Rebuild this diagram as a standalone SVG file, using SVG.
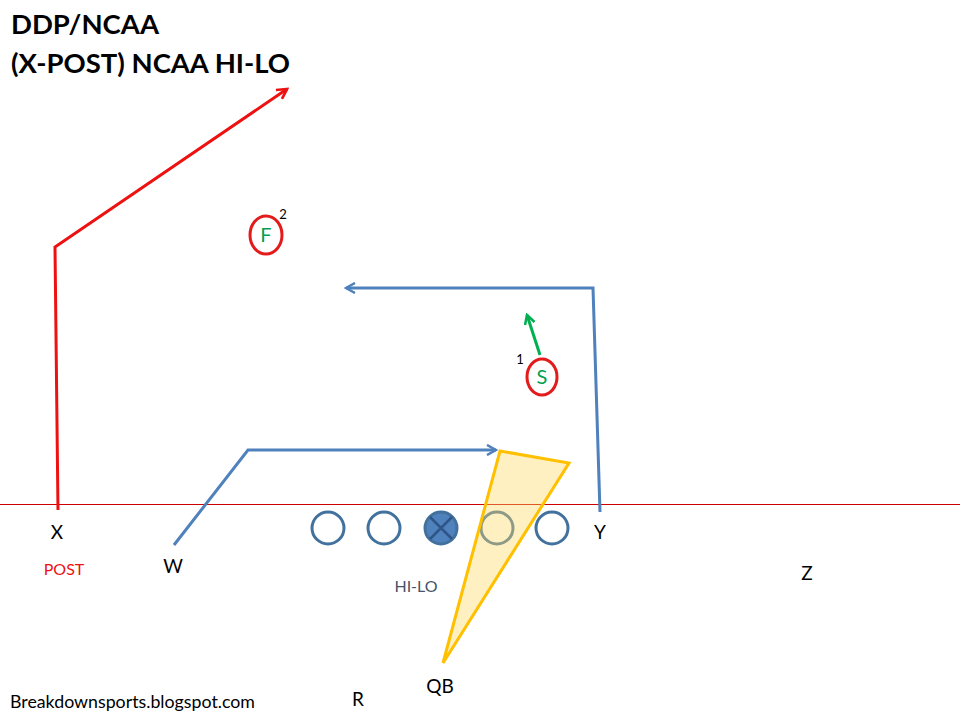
<svg xmlns="http://www.w3.org/2000/svg" width="960" height="720" viewBox="0 0 960 720">
<defs>
<style>
text{font-family:Lato,"Open Sans","Liberation Sans",sans-serif;}
.t{font-weight:bold;font-size:27.5px;fill:#000;}
.lbl{font-size:19px;fill:#000;}
.blue{stroke:#4f81bd;stroke-width:3;fill:none;}
.red{stroke:#ee1111;stroke-width:3;fill:none;}
.ol{fill:#fff;stroke:#41719c;stroke-width:3;}
.def{fill:#fff;stroke:#e31b1b;stroke-width:3;}
.g{font-size:20px;fill:#00a050;}
</style>
<marker id="ab" viewBox="0 0 12 12" refX="10" refY="6" markerWidth="12" markerHeight="12" markerUnits="userSpaceOnUse" orient="auto"><path d="M1,1 L10,6 L1,11" fill="none" stroke="#4f81bd" stroke-width="2.5"/></marker>
<marker id="ar" viewBox="0 0 12 12" refX="10" refY="6" markerWidth="13" markerHeight="13" markerUnits="userSpaceOnUse" orient="auto"><path d="M1,1 L10,6 L1,11" fill="none" stroke="#ee1111" stroke-width="2.5"/></marker>
<marker id="ag" viewBox="0 0 12 12" refX="10" refY="6" markerWidth="12" markerHeight="12" markerUnits="userSpaceOnUse" orient="auto"><path d="M1,1 L10,6 L1,11" fill="none" stroke="#00b050" stroke-width="2.5"/></marker>
</defs>
<rect width="960" height="720" fill="#fff"/>
<text class="t" x="11" y="34">DDP/NCAA</text>
<text class="t" x="11" y="73" textLength="279" lengthAdjust="spacingAndGlyphs">(X-POST) NCAA HI-LO</text>
<line x1="0" y1="504.5" x2="960" y2="504.5" stroke="#cc0000" stroke-width="1"/>
<g id="connectors">
<polyline class="red" points="58,510 55,247 287,89" marker-end="url(#ar)"/>
<polyline class="blue" points="600,512 593,288 346,288" marker-end="url(#ab)"/>
<polyline class="blue" points="174,545 248,450 496,450" marker-end="url(#ab)"/>
<line x1="540" y1="355" x2="527" y2="315" stroke="#00b050" stroke-width="3" marker-end="url(#ag)"/>
</g>
<g id="line">
<circle id="ol1" class="ol" cx="328" cy="528" r="16"/>
<circle id="ol2" class="ol" cx="384" cy="528" r="16"/>
<g id="center"><circle cx="441" cy="528" r="16" fill="#4f81bd" stroke="#41719c" stroke-width="3"/><path d="M430,517 L452,539 M452,517 L430,539" stroke="#2f5587" stroke-width="2.5"/></g>
<circle id="ol4" class="ol" cx="497" cy="528" r="16"/>
<circle id="ol5" class="ol" cx="552" cy="528" r="16"/>
</g>
<g id="qb-throw"><polygon points="500,451 569,463 443,663" fill="#ffd966" fill-opacity="0.4" stroke="#ffc000" stroke-width="3" stroke-linejoin="miter"/></g>
<g id="F"><ellipse class="def" cx="266" cy="235" rx="16" ry="19"/><text class="g" x="266" y="242" text-anchor="middle">F</text><text x="283" y="219" font-size="13" fill="#000" text-anchor="middle">2</text></g>
<g id="S"><ellipse class="def" cx="542" cy="377" rx="15" ry="18"/><text class="g" x="542" y="384" text-anchor="middle">S</text><text x="520" y="364" font-size="13" fill="#000" text-anchor="middle">1</text></g>
<g id="X"><text class="lbl" x="57" y="539" text-anchor="middle">X</text><text x="64" y="575" font-size="16" fill="#ee1111" text-anchor="middle">POST</text></g>
<g id="Y"><text class="lbl" x="600" y="539" text-anchor="middle">Y</text></g>
<g id="W"><text class="lbl" x="173" y="573" text-anchor="middle">W</text></g>
<g id="Z"><text class="lbl" x="807" y="580" text-anchor="middle">Z</text></g>
<g id="R"><text class="lbl" x="358" y="706" text-anchor="middle">R</text></g>
<g id="QB"><text class="lbl" x="440" y="693" text-anchor="middle">QB</text></g>
<text x="416" y="592" font-size="16" fill="#44546a" text-anchor="middle">HI-LO</text>
<text x="10" y="708" font-size="17" fill="#000" textLength="245" lengthAdjust="spacingAndGlyphs">Breakdownsports.blogspot.com</text>
</svg>
